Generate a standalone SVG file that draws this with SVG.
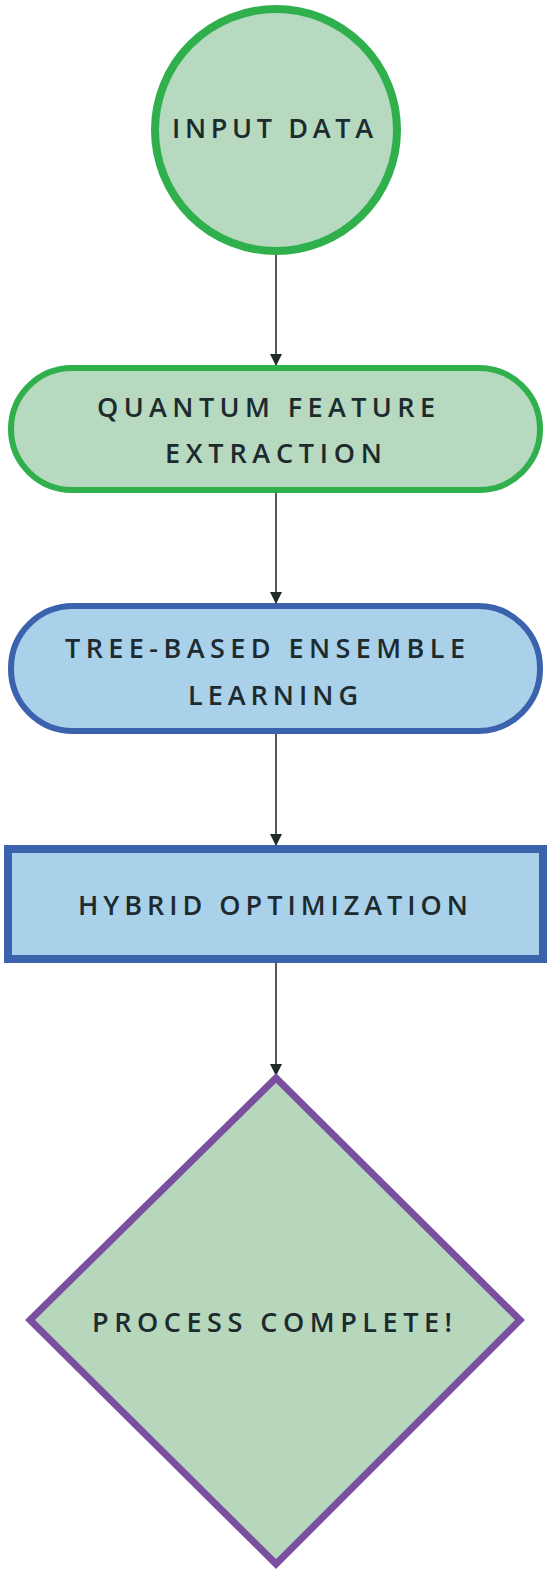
<svg xmlns="http://www.w3.org/2000/svg" width="550" height="1573" viewBox="0 0 550 1573">
<defs>
<marker id="arr" viewBox="0 0 12 12" refX="12" refY="6" markerWidth="12" markerHeight="12" markerUnits="userSpaceOnUse" orient="auto">
<path d="M0,0 L12,6 L0,12 z" fill="#1f2a2a"/>
</marker>
<style>
.lbl{font-family:"Open Sans","Liberation Sans",sans-serif;font-weight:600;font-size:27px;fill:#1d2a2e;}
.green{fill:#b6d9c0;stroke:#2fb04c;}
.blue{fill:#aad1ea;stroke:#3b63ad;}
.conn{stroke:#2b2b2b;stroke-width:1.6;fill:none;marker-end:url(#arr);}
</style>
</defs>
<rect width="550" height="1573" fill="#ffffff"/>
<g id="connectors">
<line class="conn" x1="276" y1="255" x2="276" y2="366"/>
<line class="conn" x1="276" y1="493" x2="276" y2="604"/>
<line class="conn" x1="276" y1="734" x2="276" y2="846"/>
<line class="conn" x1="276" y1="963" x2="276" y2="1076"/>
</g>
<g id="input-data">
<circle class="green" cx="276" cy="130" r="121" stroke-width="8"/>
<text class="lbl" x="172" y="138" textLength="201" lengthAdjust="spacing">INPUT DATA</text>
</g>
<g id="quantum-feature-extraction">
<rect class="green" x="11" y="368" width="529" height="122" rx="61" stroke-width="6"/>
<text class="lbl" x="97" y="417" textLength="338" lengthAdjust="spacing">QUANTUM FEATURE</text>
<text class="lbl" x="165" y="463" textLength="217" lengthAdjust="spacing">EXTRACTION</text>
</g>
<g id="tree-based-ensemble-learning">
<rect class="blue" x="11" y="606" width="529" height="125" rx="62" stroke-width="6"/>
<text class="lbl" x="65" y="658" textLength="400" lengthAdjust="spacing">TREE-BASED ENSEMBLE</text>
<text class="lbl" x="188" y="705" textLength="170" lengthAdjust="spacing">LEARNING</text>
</g>
<g id="hybrid-optimization">
<rect class="blue" x="8" y="849" width="535" height="110" stroke-width="8"/>
<text class="lbl" x="78" y="915" textLength="390" lengthAdjust="spacing">HYBRID OPTIMIZATION</text>
</g>
<g id="process-complete">
<polygon points="276,1078 520,1320 276,1564 30,1320" fill="#b6d7bc" stroke="#7a4f9f" stroke-width="7"/>
<text class="lbl" x="92" y="1332" textLength="360" lengthAdjust="spacing">PROCESS COMPLETE!</text>
</g>
</svg>
